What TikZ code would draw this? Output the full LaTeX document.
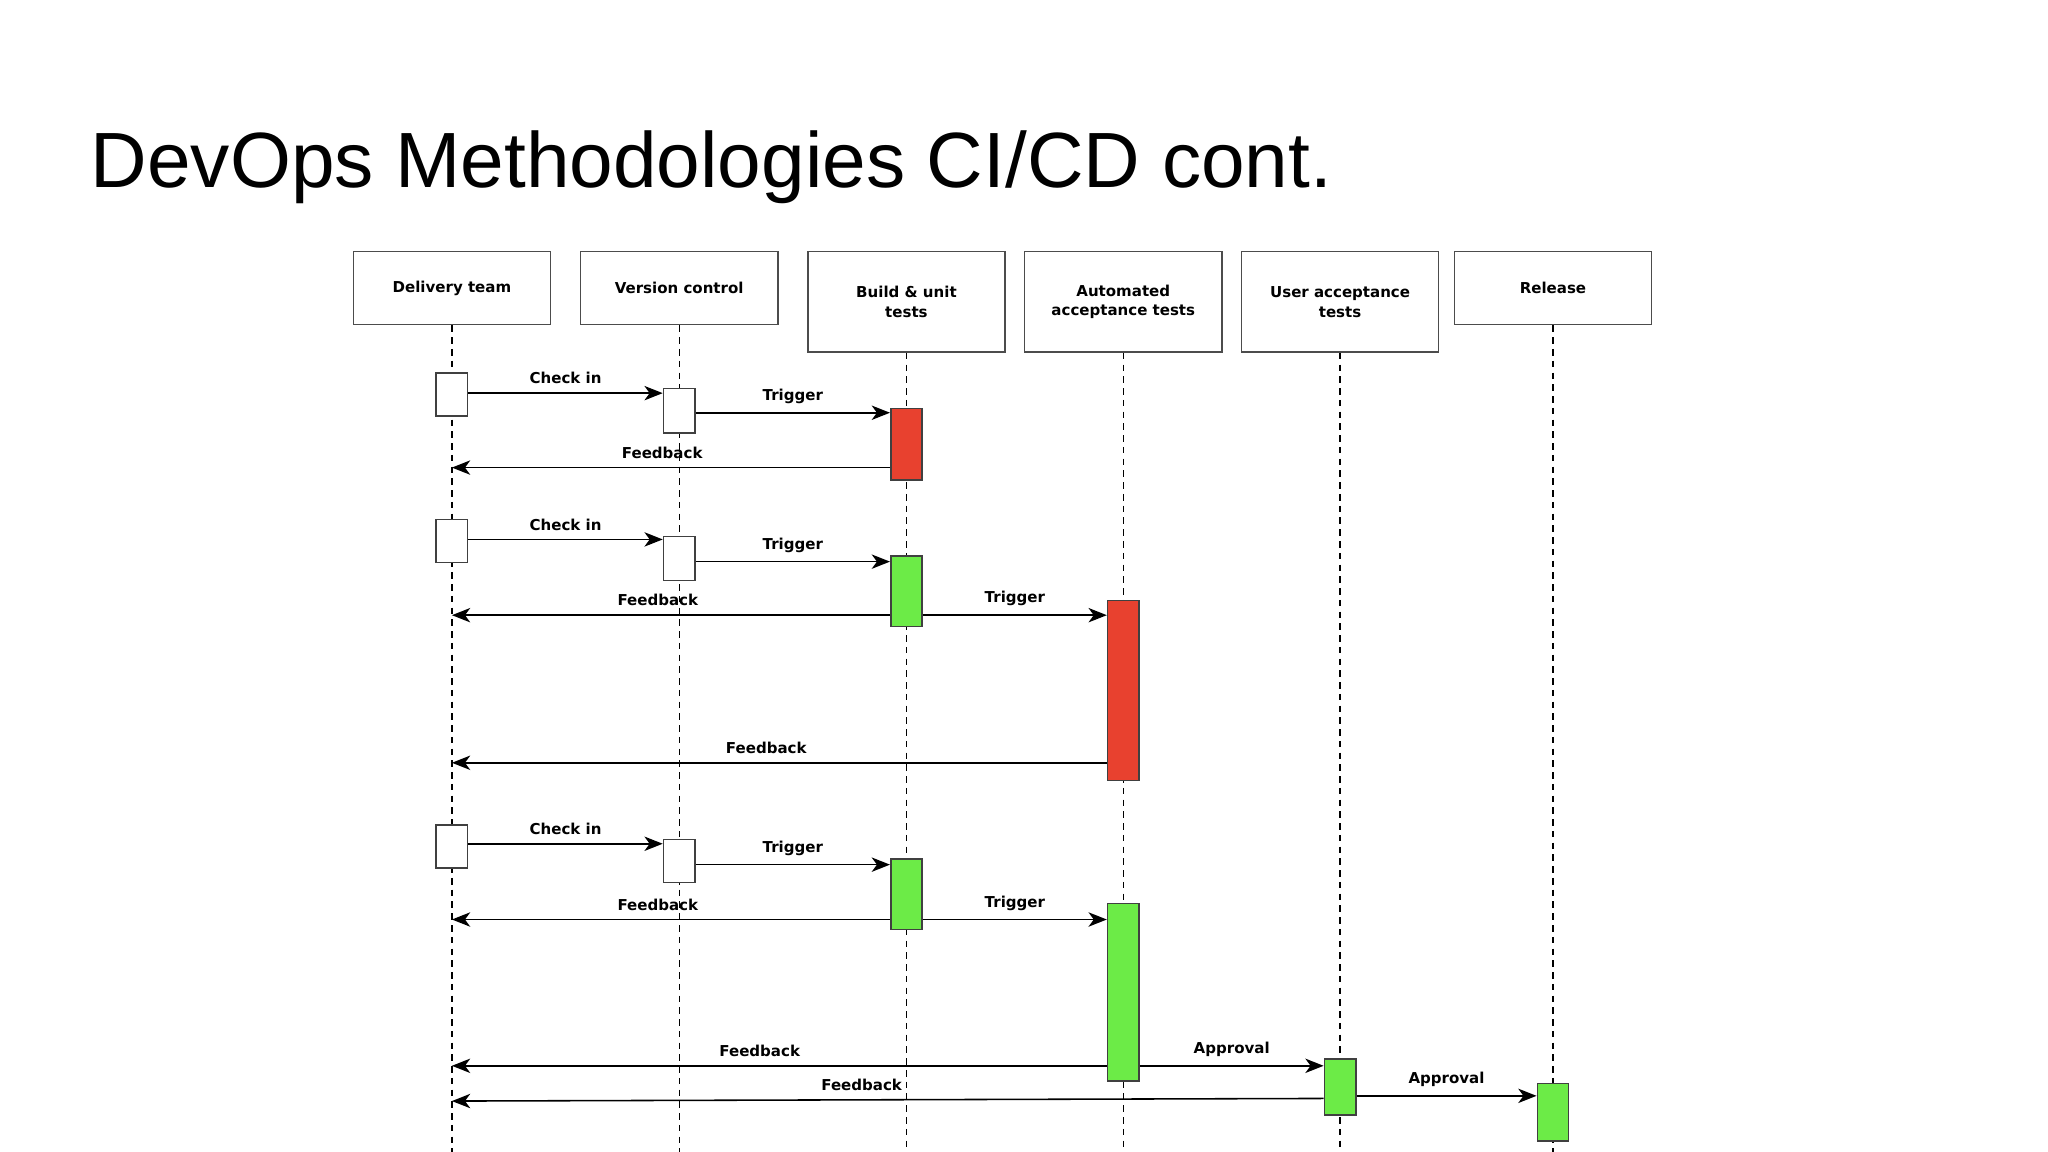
\documentclass[tikz,border=0pt]{standalone}
\usepackage{fontspec}
\setmainfont{Liberation Sans}
\newfontfamily\lbl{DejaVu Sans}
\usetikzlibrary{arrows.meta}
\definecolor{redb}{HTML}{E8412F}
\definecolor{greenb}{HTML}{6CEB47}
\begin{document}
\begin{tikzpicture}[x=1pt,y=-1pt,
  hdr/.style={draw=black!70,line width=1.2pt,minimum width=151pt,inner sep=0pt,align=center,font=\lbl\bfseries\fontsize{11.5}{15}\selectfont,anchor=north},
  act/.style={draw=black!75,line width=1.2pt,minimum width=24pt,inner sep=0pt,anchor=north},
  life/.style={dashed,line width=1pt,dash pattern=on 5pt off 4pt},
  msg/.style={line width=1.2pt,-{Stealth[length=14pt,width=11pt,inset=4pt]}},
  lab/.style={font=\lbl\bfseries\fontsize{11.5}{14}\selectfont}]
\useasboundingbox (0,0) rectangle (1568,882);
\node[anchor=west,font=\fontsize{60}{70}\selectfont] (title) at (66,128) {DevOps Methodologies CI/CD cont.};
% headers
\node[hdr,minimum height=56pt] (h1) at (346,192) {Delivery team};
\node[hdr,minimum height=56pt] (h2) at (520,192) {Version control};
\node[hdr,minimum height=77pt] (h3) at (694,192) {Build \& unit\\tests};
\node[hdr,minimum height=77pt] (h4) at (860,192) {Automated\\acceptance tests};
\node[hdr,minimum height=77pt] (h5) at (1026,192) {User acceptance\\tests};
\node[hdr,minimum height=56pt] (h6) at (1189,192) {Release};
\foreach \i/\x in {1/346,2/520,3/694,4/860,5/1026,6/1189}{
  \coordinate (e\i) at (\x,882);
  \draw[life] (h\i.south) -- (e\i);
}
% group 1
\node[act,fill=white,minimum height=33pt] (a1) at (346,285) {};
\node[act,fill=white,minimum height=34pt] (b1) at (520,297) {};
\node[act,fill=redb,minimum height=55pt] (c1) at (694,312) {};
\draw[msg] (a1.east|-0,301) -- (b1.west|-0,301) node[lab,midway,above=3pt] {Check in};
\draw[msg] (b1.east|-0,316) -- (c1.west|-0,316) node[lab,midway,above=3pt] {Trigger};
\draw[msg] (c1.west|-0,358) -- (a1|-0,358) node[lab,pos=0.52,above=3pt] {Feedback};
% group 2
\node[act,fill=white,minimum height=33pt] (a2) at (346,397) {};
\node[act,fill=white,minimum height=34pt] (b2) at (520,410) {};
\node[act,fill=greenb,minimum height=54pt] (c2) at (694,425) {};
\node[act,fill=redb,minimum height=138pt] (d2) at (860,459) {};
\draw[msg] (a2.east|-0,413) -- (b2.west|-0,413) node[lab,midway,above=3pt] {Check in};
\draw[msg] (b2.east|-0,430) -- (c2.west|-0,430) node[lab,midway,above=3pt] {Trigger};
\draw[msg] (c2.west|-0,471) -- (a2|-0,471) node[lab,pos=0.53,above=3pt] {Feedback};
\draw[msg] (c2.east|-0,471) -- (d2.west|-0,471) node[lab,midway,above=3pt] {Trigger};
\draw[msg] (d2.west|-0,584) -- (a2|-0,584) node[lab,pos=0.52,above=3pt] {Feedback};
% group 3
\node[act,fill=white,minimum height=33pt] (a3) at (346,631) {};
\node[act,fill=white,minimum height=33pt] (b3) at (520,642) {};
\node[act,fill=greenb,minimum height=54pt] (c3) at (694,657) {};
\node[act,fill=greenb,minimum height=136pt] (d3) at (860,691) {};
\node[act,fill=greenb,minimum height=43pt] (f3) at (1026,810) {};
\node[act,fill=greenb,minimum height=44pt] (g3) at (1189,829) {};
\draw[msg] (a3.east|-0,646) -- (b3.west|-0,646) node[lab,midway,above=3pt] {Check in};
\draw[msg] (b3.east|-0,662) -- (c3.west|-0,662) node[lab,midway,above=3pt] {Trigger};
\draw[msg] (c3.west|-0,704) -- (a3|-0,704) node[lab,pos=0.53,above=3pt] {Feedback};
\draw[msg] (c3.east|-0,704) -- (d3.west|-0,704) node[lab,midway,above=3pt] {Trigger};
\draw[msg] (d3.west|-0,816) -- (a3|-0,816) node[lab,pos=0.53,above=3pt] {Feedback};
\draw[msg] (d3.east|-0,816) -- (f3.west|-0,816) node[lab,midway,above=3pt] {Approval};
\draw[msg] (f3.west|-0,841) -- (a3|-0,843) node[lab,pos=0.53,above=3pt] {Feedback};
\draw[msg] (f3.east|-0,839) -- (g3.west|-0,839) node[lab,midway,above=3pt] {Approval};
\end{tikzpicture}
\end{document}
